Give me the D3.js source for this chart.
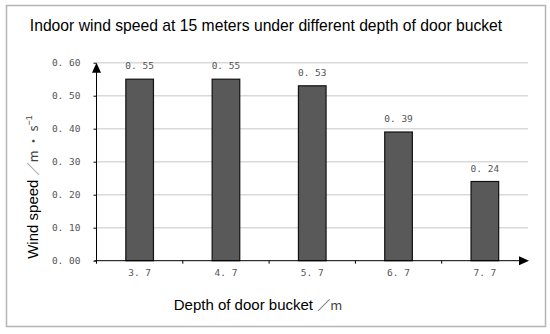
<!DOCTYPE html>
<html><head><meta charset="utf-8">
<script src="https://cdn.jsdelivr.net/npm/d3@7"></script>
<style>body{margin:0;background:#fff}</style>
</head><body>
<svg id="c" width="550" height="334"></svg>
<script>
const categories = ["3. 7", "4. 7", "5. 7", "6. 7", "7. 7"];
const values = [0.55, 0.55, 0.53, 0.39, 0.24];
const valueLabels = ["0. 55", "0. 55", "0. 53", "0. 39", "0. 24"];
const yTicks = [0, 0.1, 0.2, 0.3, 0.4, 0.5, 0.6];
const yTickLabels = ["0. 00", "0. 10", "0. 20", "0. 30", "0. 40", "0. 50", "0. 60"];
const title = "Indoor wind speed at 15 meters under different depth of door bucket";

const svg = d3.select("#c");
const numFont = "'DejaVu Sans Mono', monospace";
const txtFont = "'Liberation Sans', Arial, sans-serif";

// frame
svg.append("rect").attr("x", 6.5).attr("y", 5.5).attr("width", 539).attr("height", 321)
  .attr("fill", "#fff").attr("stroke", "#b4b4b4").attr("stroke-width", 1.5);

const x0 = 96.5, x1 = 528, yTop = 62.7, yBot = 260.7;
const x = d3.scaleBand().domain(categories).range([x0, x1]).paddingInner(0.68).paddingOuter(0.34);
const y = d3.scaleLinear().domain([0, 0.6]).range([yBot, yTop]);

// gridlines
svg.append("g").selectAll("line").data(yTicks.slice(1)).join("line")
  .attr("x1", x0).attr("x2", x1).attr("y1", d => y(d)).attr("y2", d => y(d))
  .attr("stroke", "#d9d9d9").attr("stroke-width", 1.5);

// bars
svg.append("g").selectAll("rect").data(values).join("rect")
  .attr("x", (d, i) => x(categories[i]))
  .attr("y", d => y(d))
  .attr("width", x.bandwidth())
  .attr("height", d => yBot - y(d))
  .attr("fill", "#595959").attr("stroke", "#111").attr("stroke-width", 1.2);

// value labels
svg.append("g").selectAll("text").data(values).join("text")
  .attr("x", (d, i) => x(categories[i]) + x.bandwidth() / 2)
  .attr("y", d => y(d) - 10)
  .attr("text-anchor", "middle")
  .attr("font-family", numFont).attr("font-size", 9.5).attr("fill", "#555")
  .text((d, i) => valueLabels[i]);

// y axis
const yAxis = d3.axisLeft(y).tickValues(yTicks).tickSize(3).tickFormat((d, i) => yTickLabels[i]);
const gy = svg.append("g").attr("transform", `translate(${x0},0)`).call(yAxis);
gy.select(".domain").remove();
gy.selectAll(".tick line").attr("stroke", "#000");
gy.selectAll(".tick text").attr("x", -16).attr("font-family", numFont).attr("font-size", 9.5).attr("fill", "#555");
svg.append("line").attr("x1", x0).attr("x2", x0).attr("y1", yBot).attr("y2", yTop + 8).attr("stroke", "#000");
svg.append("path").attr("d", `M${x0},${yTop} L${x0 - 4.5},${yTop + 10} L${x0 + 4.5},${yTop + 10}Z`).attr("fill", "#000");

// x axis
const xAxis = d3.axisBottom(x).tickSize(0).tickPadding(9);
const gx = svg.append("g").attr("transform", `translate(0,${yBot})`).call(xAxis);
gx.select(".domain").remove();
gx.selectAll(".tick text").attr("font-family", numFont).attr("font-size", 9.5).attr("fill", "#555");
svg.append("g").selectAll("line").data(d3.range(categories.length)).join("line")
  .attr("x1", i => x0 + i * (x1 - x0) / categories.length)
  .attr("x2", i => x0 + i * (x1 - x0) / categories.length)
  .attr("y1", yBot).attr("y2", yBot + 3).attr("stroke", "#000");
svg.append("line").attr("x1", x0 - 2).attr("x2", x1 - 8).attr("y1", yBot).attr("y2", yBot).attr("stroke", "#000");
svg.append("path").attr("d", `M${x1 + 1},${yBot} L${x1 - 9},${yBot - 4.5} L${x1 - 9},${yBot + 4.5}Z`).attr("fill", "#000");

// title
svg.append("text").attr("x", 266).attr("y", 31).attr("text-anchor", "middle")
  .attr("font-family", txtFont).attr("font-size", 15.7).attr("fill", "#000").text(title);

// x title
const xt = svg.append("text").attr("x", 258).attr("y", 310).attr("text-anchor", "middle")
  .attr("font-family", txtFont).attr("font-size", 15).attr("fill", "#000");
xt.append("tspan").text("Depth of door bucket ");
xt.append("tspan").attr("font-family", "'Noto Sans CJK SC'").attr("fill", "#444").attr("font-size", 13).text("／m");

// y title
const yt = svg.append("text").attr("transform", "translate(38,187) rotate(-90)").attr("text-anchor", "middle")
  .attr("font-family", txtFont).attr("font-size", 15).attr("fill", "#000");
yt.append("tspan").text("Wind speed ");
yt.append("tspan").attr("font-family", "'Noto Sans CJK SC'").attr("fill", "#444").attr("font-size", 13).text("／m · s");
yt.append("tspan").attr("font-size", 9).attr("dy", -6).attr("fill", "#444").text("−1");
</script>
</body></html>
